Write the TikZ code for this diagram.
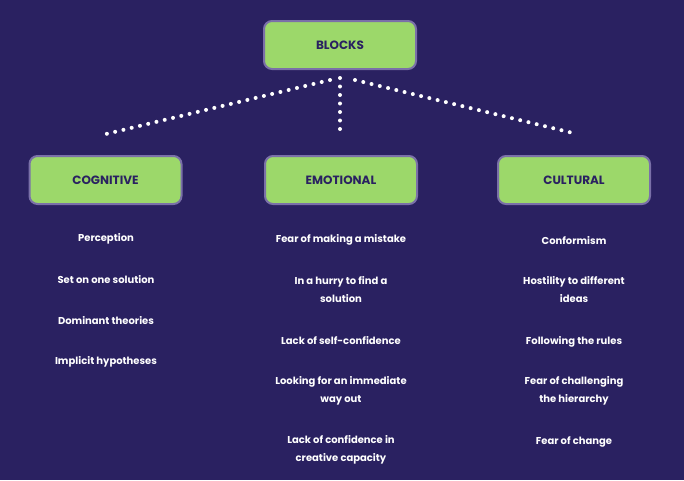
\documentclass[tikz,border=0pt]{standalone}
\usepackage{fontspec}
\setmainfont{Poppins}
\definecolor{bg}{HTML}{2A2161}
\definecolor{boxg}{HTML}{9CD86A}
\definecolor{boxb}{HTML}{7A70A8}
\begin{document}
\begin{tikzpicture}[x=1pt,y=-1pt,
  box/.style={draw=boxb,line width=2pt,fill=boxg,rounded corners=8pt,minimum width=152pt,minimum height=48pt,text=bg,font=\fontsize{12}{14}\selectfont\bfseries},
  item/.style={text=white,align=center,font=\fontsize{10}{18}\selectfont\bfseries},
  dots/.style={white,line width=4pt,line cap=round,dash pattern=on 0pt off 8.5pt}]
\fill[bg] (0,0) rectangle (684,480);
\useasboundingbox (0,0) rectangle (684,480);
\node[box] (blocks) at (340,45) {BLOCKS};
\node[box] (cog) at (105.5,180) {COGNITIVE};
\node[box] (emo) at (341,180) {EMOTIONAL};
\node[box] (cul) at (574,180) {CULTURAL};
\coordinate (t0) at (340,78);
\coordinate (t1) at (330,80);
\coordinate (t2) at (355,80);
\coordinate (e0) at (340,133);
\coordinate (e1) at (106,134);
\coordinate (e2) at (577,134);
\draw[dots] (t0) -- (e0);
\draw[dots] (t1) -- (e1);
\draw[dots] (t2) -- (e2);
\node[item] (c1) at (106,239) {Perception};
\node[item] (c2) at (106,280) {Set on one solution};
\node[item] (c3) at (106,321) {Dominant theories};
\node[item] (c4) at (106,362) {Implicit hypotheses};
\node[item] (m1) at (341,240) {Fear of making a mistake};
\node[item] (m2) at (341,290) {In a hurry to find a\\solution};
\node[item] (m3) at (341,341) {Lack of self-confidence};
\node[item] (m4) at (341,391) {Looking for an immediate\\way out};
\node[item] (m5) at (341,450) {Lack of confidence in\\creative capacity};
\node[item] (u1) at (574,241) {Conformism};
\node[item] (u2) at (574,290) {Hostility to different\\ideas};
\node[item] (u3) at (574,342) {Following the rules};
\node[item] (u4) at (574,391) {Fear of challenging\\the hierarchy};
\node[item] (u5) at (574,442) {Fear of change};
\end{tikzpicture}
\end{document}
